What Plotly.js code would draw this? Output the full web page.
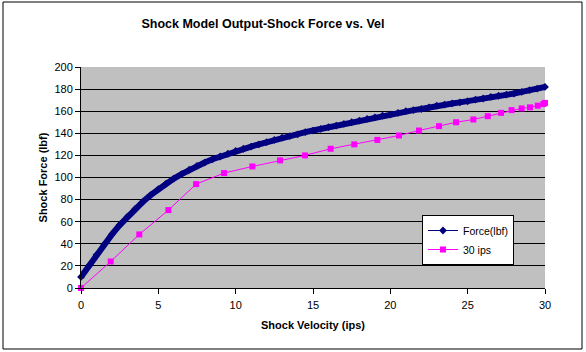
<!DOCTYPE html>
<html>
<head>
<meta charset="utf-8">
<script src="https://cdn.plot.ly/plotly-3.0.1.min.js"></script>
<style>
  html, body { margin: 0; padding: 0; background: #ffffff; }
  #chart { width: 586px; height: 352px; }
</style>
</head>
<body>
<div id="chart"></div>
<script>
// Series "Force(lbf)" – shock velocity (ips) and force (lbf)
const forceVel = [0,0.5,1,1.5,2,2.5,3,3.5,4,4.5,5,5.5,6,6.5,7,7.5,8,8.5,9,9.5,10,
  10.5,11,11.5,12,12.5,13,13.5,14,14.5,15,15.5,16,16.5,17,17.5,18,18.5,19,19.5,20,
  20.5,21,21.5,22,22.5,23,23.5,24,24.5,25,25.5,26,26.5,27,27.5,28,28.5,29,29.5,30];
const forceLbf = [10,20,30,39.5,48.5,57,64.5,71.5,78,84,89.5,94.5,99,103,107,110.5,113.5,116.5,119,121.5,124,
  126,128,130,132,134,136,137.5,139,141,142.5,144,145.5,147,148.5,150,151.5,153,154.5,156,157,
  158.5,160,161,162,163.5,165,166,167,168,169,170.5,171.5,173,174,175,176,177.5,179,180.5,182];

// Series "30 ips"
const vel30 = [0,1.92,3.77,5.65,7.44,9.25,11.08,12.87,14.48,16.14,17.67,19.16,20.56,21.85,23.15,24.25,25.37,26.3,27.16,27.84,28.49,29.03,29.53,29.9,30];
const force30 = [0,24,48.5,70.5,94,104,110,115.5,120,126,130,134,138,142.5,146.5,150,152.5,155.5,158.5,161,162.5,163.5,165,166.5,167.5];

// Axis ticks
const xTicks = [0,5,10,15,20,25,30];
const yTicks = [0,20,40,60,80,100,120,140,160,180,200];

const navy = '#000080';
const magenta = '#FF00FF';
const font = 'Liberation Sans, Arial, sans-serif';

const traces = [
  { // thick band drawn by the dense diamonds in the original
    x: forceVel, y: forceLbf, type: 'scatter', mode: 'lines',
    line: { color: navy, width: 6 }, showlegend: false, hoverinfo: 'skip',
    legendgroup: 'f'
  },
  {
    x: forceVel, y: forceLbf, type: 'scatter', mode: 'lines+markers', name: 'Force(lbf)',
    line: { color: navy, width: 1 }, marker: { symbol: 'diamond', size: 6, color: navy },
    legendgroup: 'f', cliponaxis: false
  },
  {
    x: vel30, y: force30, type: 'scatter', mode: 'lines+markers', name: '30 ips',
    line: { color: magenta, width: 1 }, marker: { symbol: 'square', size: 6, color: magenta },
    cliponaxis: false
  }
];

const L = 81, R = 545, T = 67, B = 288, W = 586, H = 352;
const pw = R - L, ph = B - T;
const px = v => (v - L) / pw;
const py = v => (B - v) / ph;

const layout = {
  width: W, height: H,
  margin: { l: L, r: W - R, t: T, b: H - B, pad: 0 },
  paper_bgcolor: '#ffffff',
  plot_bgcolor: '#C0C0C0',
  font: { family: font, size: 11, color: '#000000' },
  title: {
    text: '<b>Shock Model Output-Shock Force vs. Vel</b>',
    font: { family: font, size: 12.5, color: '#000000' },
    xref: 'paper', x: px(263), xanchor: 'center',
    yref: 'container', y: 1 - 24 / H, yanchor: 'middle'
  },
  xaxis: {
    range: [0, 30], tickvals: xTicks, ticktext: xTicks.map(String),
    ticks: 'outside', ticklen: 5, tickcolor: '#000', tickwidth: 1,
    ticklabelstandoff: 2,
    showline: true, linecolor: '#000', linewidth: 1,
    showgrid: false, zeroline: false,
    tickfont: { family: font, size: 11, color: '#000' },
    title: { text: '<b>Shock Velocity (ips)</b>', font: { family: font, size: 11, color: '#000' }, standoff: 11 }
  },
  yaxis: {
    range: [0, 200], tickvals: yTicks, ticktext: yTicks.map(String),
    ticks: 'outside', ticklen: 5, tickcolor: '#000', tickwidth: 1,
    showline: true, linecolor: '#000', linewidth: 1,
    showgrid: true, gridcolor: '#000000', gridwidth: 1, zeroline: false,
    tickfont: { family: font, size: 11, color: '#000' },
    title: { text: '<b>Shock Force (lbf)</b>', font: { family: font, size: 11, color: '#000' }, standoff: 4 }
  },
  legend: {
    x: px(422), y: py(215), xanchor: 'left', yanchor: 'top',
    bgcolor: '#ffffff', bordercolor: '#000000', borderwidth: 1,
    font: { family: font, size: 10.5, color: '#000' },
    tracegroupgap: 0, itemwidth: 30
  },
  shapes: [
    { type: 'rect', xref: 'paper', yref: 'paper',
      x0: px(3), x1: px(582), y0: py(349), y1: py(2),
      line: { color: '#000000', width: 1 }, fillcolor: 'rgba(0,0,0,0)', layer: 'below' }
  ],
  showlegend: true
};

Plotly.newPlot('chart', traces, layout, { displayModeBar: false, staticPlot: true });
</script>
</body>
</html>
